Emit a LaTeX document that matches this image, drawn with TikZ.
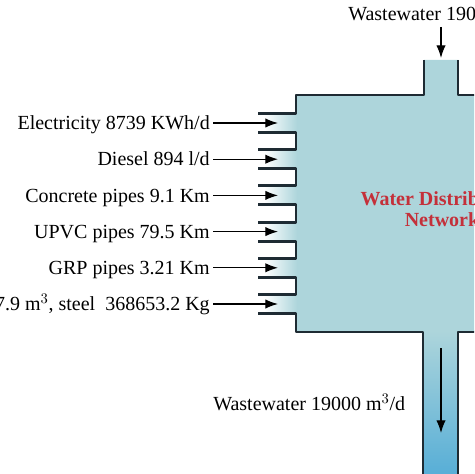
\documentclass[tikz,border=0pt]{standalone}
\usepackage{fontspec}
\setmainfont{Liberation Serif}
\usetikzlibrary{arrows.meta}
\definecolor{water}{HTML}{ADD5DB}
\definecolor{waterdeep}{HTML}{4EAAD6}
\definecolor{wallc}{HTML}{1E2B33}
\definecolor{netred}{HTML}{C4303A}
\tikzset{
  wall/.style={line width=2.2pt, wallc, line join=round},
  flow/.style={line width=0.9pt, -{Latex[length=9.5pt,width=7pt]}},
  lbl/.style={anchor=east, inner sep=0pt, text height=10pt, text depth=0pt,
    font=\fontsize{15}{17}\selectfont},
  wwlbl/.style={anchor=base west, inner sep=0pt, font=\fontsize{15}{17}\selectfont}
}
\begin{document}
\begin{tikzpicture}[x=0.75pt,y=-0.75pt]
  \useasboundingbox (0,0) rectangle (474,474);
  \clip (0,0) rectangle (474,474);
  % body of the network
  \fill[water] (296,95) -- (424,95) -- (424,60) -- (458,60) -- (458,95) -- (490,95)
     -- (490,332) -- (296,332) -- cycle;
  \shade[top color=water, bottom color=waterdeep] (423,331) rectangle (458,490);
  % inlet channels
  \foreach \c in {123,159.2,195.4,231.6,267.8,304}
    \shade[left color=white, right color=water] (264,\c-9.5) rectangle (297,\c+9.5);
  % walls
  \draw[wall] (424,60) -- (424,95) -- (296,95) -- (296,113.5) -- (258,113.5);
  \draw[wall] (458,60) -- (458,95) -- (490,95);
  \foreach \c/\d in {123/159.2, 159.2/195.4, 195.4/231.6, 231.6/267.8, 267.8/304}
    \draw[wall] (258,\c+9.5) -- (296,\c+9.5) -- (296,\d-9.5) -- (258,\d-9.5);
  \draw[wall] (258,313.5) -- (296,313.5) -- (296,332) -- (423,332) -- (423,490);
  \draw[wall] (458,490) -- (458,332) -- (490,332);
  % inputs
  \foreach \y/\name/\txt in {123/elec/{Electricity 8739 KWh/d},
      159.2/dies/{Diesel 894 l/d},
      195.4/conc/{Concrete pipes 9.1 Km},
      231.6/upvc/{UPVC pipes 79.5 Km},
      267.8/grp/{GRP pipes 3.21 Km},
      304/stl/{7.9 m$^3$, steel\ \ 368653.2 Kg}} {
    \node[lbl] (\name) at (210,\y) {\txt};
    \coordinate (\name-in) at (278,\y);
    \draw[flow] (\name.east) ++(3,0) -- (\name-in);
  }
  % wastewater in and out
  \node[wwlbl] (wwin) at (348,21) {Wastewater 19000 m$^3$/d};
  \coordinate (wwin-a) at (441,27);
  \coordinate (wwin-b) at (441,58);
  \draw[flow] (wwin-a) -- (wwin-b);
  \node[wwlbl] (wwout) at (213,410) {Wastewater 19000 m$^3$/d};
  \coordinate (wwout-a) at (441,348);
  \coordinate (wwout-b) at (441,433);
  \draw[flow] (wwout-a) -- (wwout-b);
  \node[align=center, inner sep=0pt, text=netred,
    font=\fontsize{15}{15.8}\selectfont\bfseries] (net) at (442,209)
    {Water Distribution\\Network};
\end{tikzpicture}
\end{document}
